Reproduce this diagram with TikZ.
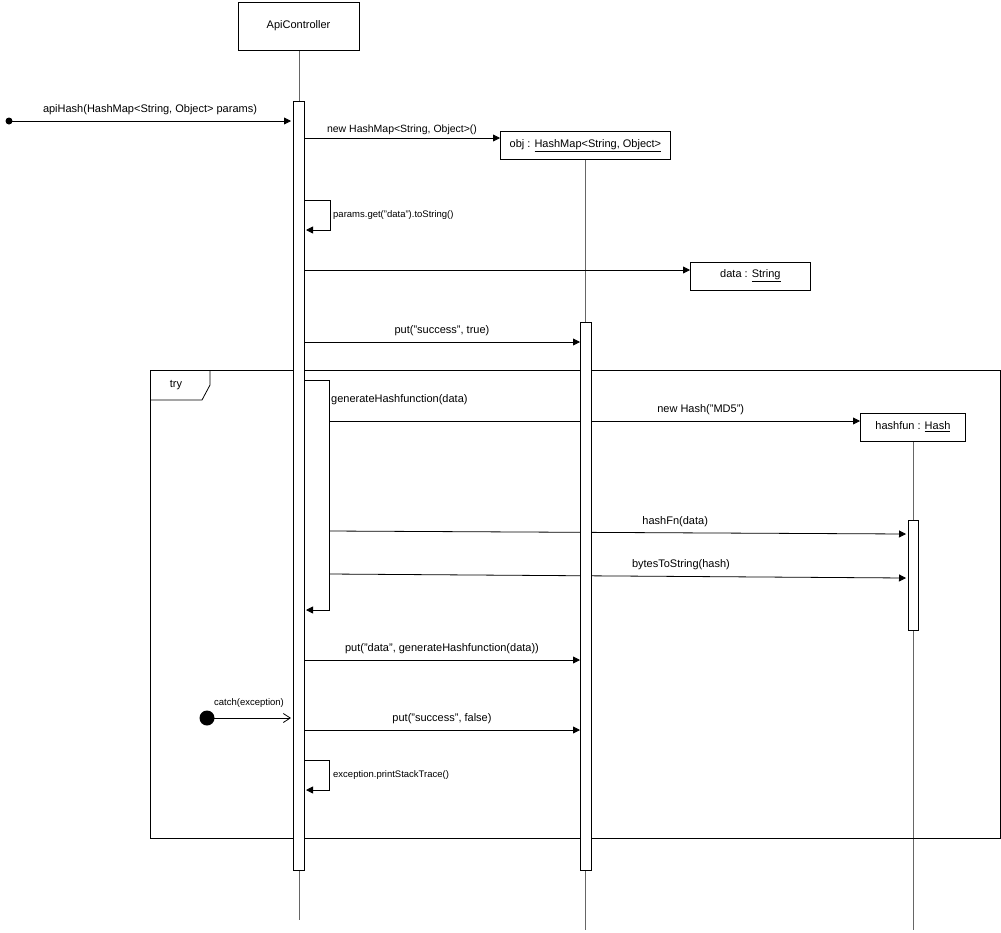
\documentclass[tikz,border=0pt]{standalone}
\usepackage{fontspec}
\setmainfont{Liberation Sans}
\usetikzlibrary{arrows.meta}
\begin{document}
\begin{tikzpicture}[x=1pt,y=-1pt,
  every node/.style={font=\fontsize{11}{13}\selectfont,inner sep=0pt},
  obj/.style={draw,fill=white,line width=0.8pt,minimum height=28pt,inner sep=3pt},
  life/.style={draw=black!60,line width=0.8pt},
  bar/.style={draw,fill=white,line width=0.8pt},
  msg/.style={line width=0.8pt,-{Triangle[length=7pt,width=7pt]}},
  lbl/.style={font=\fontsize{10.5}{12}\selectfont},
  small/.style={font=\fontsize{9.5}{11}\selectfont}]
\useasboundingbox (0,0) rectangle (1001,932);
% lifelines
\draw[life] (299,50) -- (299,920);
\draw[life] (585,160) -- (585,930);
\draw[life] (913,441) -- (913,930);
% frame
\draw[line width=0.8pt] (150,370) rectangle (1000,838);
\draw[line width=0.8pt] (150,400) -- (202,400) -- (210,385) -- (210,370);
\node at (176,385) {try};
% header boxes
\node[obj,minimum width=121pt,minimum height=48pt] (api) at (298.5,26) {ApiController};
\node[obj,minimum width=170pt,anchor=west] (objb) at (500,145.5) {obj : \underline{HashMap<String, Object>}};
\node[obj,minimum width=120pt,anchor=west] (datab) at (690,276) {data : \underline{String}};
\node[obj,minimum width=105pt,anchor=west] (hashb) at (860,427) {hashfun : \underline{Hash}};
% messages
\coordinate (start) at (9,121);
\fill (start) circle (3.5);
\draw[msg] (start) -- (291,121) node[midway,above=6pt] {apiHash(HashMap<String, Object> params)};
\draw[msg] (304,138) -- (objb.west|-0,138) node[midway,above=3pt,lbl] {new HashMap<String, Object>()};
\draw[msg] (304,200) -- (330,200) -- (330,230) -- (306,230);
\node[anchor=west,small] (l1) at (333,215) {params.get("data").toString()};
\draw[msg] (304,270) -- (datab.west|-0,270);
\draw[msg] (304,342) -- (580,342) node[midway,above=6pt] {put("success", true)};
% generate self call
\draw[msg] (304,380) -- (329,380) -- (329,610) -- (306,610);
\node[anchor=west] at (331,400) {generateHashfunction(data)};
\draw[msg] (329,421) -- (hashb.west|-0,421) node[pos=0.7,above=6pt] {new Hash("MD5")};
\draw[msg] (329,531) -- (906,534) node[pos=0.6,above=6pt] {hashFn(data)};
\draw[msg] (329,574) -- (906,578) node[pos=0.61,above=6pt] {bytesToString(hash)};
\draw[msg] (304,660) -- (580,660) node[midway,above=6pt] {put("data", generateHashfunction(data))};
\coordinate (catch) at (207,718);
\fill (catch) circle (7.5);
\draw[line width=0.8pt,-{Straight Barb[length=7pt,width=9pt]}] (catch) -- (291,718) node[midway,above=10pt,small] {catch(exception)};
\draw[msg] (304,730) -- (580,730) node[midway,above=6pt] {put("success", false)};
\draw[msg] (304,760) -- (329,760) -- (329,790) -- (306,790);
\node[anchor=west,small] at (333,775) {exception.printStackTrace()};
% activation bars
\node[bar,anchor=north west,minimum width=11pt,minimum height=769pt] (b1) at (293,101) {};
\node[bar,anchor=north west,minimum width=11pt,minimum height=548pt] (b2) at (580,322) {};
\node[bar,anchor=north west,minimum width=10pt,minimum height=110pt] (b3) at (908,520) {};
% redraw messages ending/starting at bars over bars not needed; redraw inner self call edge
\draw[line width=0.8pt] (304,380) -- (329,380);
\end{tikzpicture}
\end{document}
